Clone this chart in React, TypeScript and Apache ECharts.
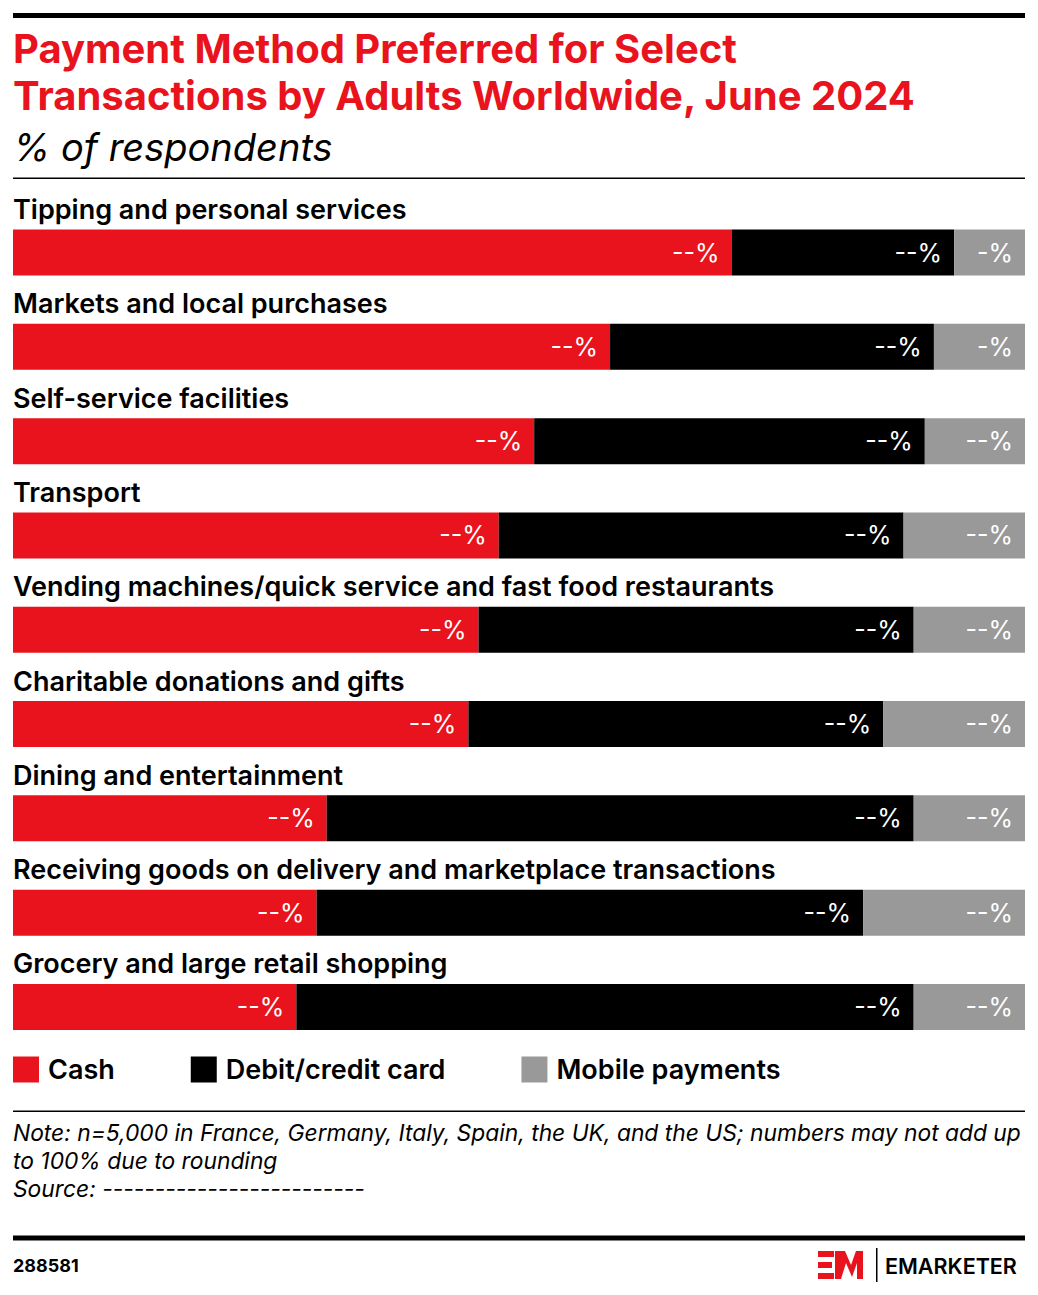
import React, { useEffect, useRef } from "react";
import * as echarts from "echarts";

const categories = [
  "Tipping and personal services",
  "Markets and local purchases",
  "Self-service facilities",
  "Transport",
  "Vending machines/quick service and fast food restaurants",
  "Charitable donations and gifts",
  "Dining and entertainment",
  "Receiving goods on delivery and marketplace transactions",
  "Grocery and large retail shopping",
];
const seriesNames = ["Cash", "Debit/credit card", "Mobile payments"];
const cash = [71, 59, 51.5, 48, 46, 45, 31, 30, 28];
const card = [22, 32, 38.6, 40, 43, 41, 58, 54, 61];
const mobile = [7, 9, 9.9, 12, 11, 14, 11, 16, 11];
const cashLabels = ["--%", "--%", "--%", "--%", "--%", "--%", "--%", "--%", "--%"];
const cardLabels = ["--%", "--%", "--%", "--%", "--%", "--%", "--%", "--%", "--%"];
const mobileLabels = ["-%", "-%", "--%", "--%", "--%", "--%", "--%", "--%", "--%"];

const RED = "#e8131c";
const BLACK = "#000000";
const GRAY = "#999999";
const FONT = "Inter, 'Noto Sans', sans-serif";

export default function App() {
  const ref = useRef<HTMLDivElement>(null);
  useEffect(() => {
    if (!ref.current) return;
    const chart = echarts.init(ref.current, null, { renderer: "svg" });
    const mk = (name: string, data: number[], labels: string[], color: string) => ({
      name,
      type: "bar",
      stack: "total",
      barWidth: 46,
      data,
      itemStyle: { color },
      label: {
        show: true,
        position: "insideRight",
        distance: 12,
        color: "#ffffff",
        fontFamily: FONT,
        fontSize: 25,
        fontWeight: 400,
        formatter: (p: any) => labels[p.dataIndex],
      },
    });
    chart.setOption({
      animation: false,
      textStyle: { fontFamily: FONT },
      grid: { left: 13, right: 13, top: 205.35, height: 848.8, containLabel: false },
      xAxis: { type: "value", min: 0, max: 100, show: false },
      yAxis: {
        type: "category",
        data: categories,
        inverse: true,
        axisLine: { show: false },
        axisTick: { show: false },
        splitLine: { show: false },
        axisLabel: {
          inside: true,
          margin: 0,
          align: "left",
          verticalAlign: "bottom",
          padding: [0, 0, 28, 0],
          color: "#000",
          fontFamily: FONT,
          fontSize: 27,
          fontWeight: 600,
          lineHeight: 30,
        },
        z: 10,
      },
      legend: {
        left: 13,
        top: 1056,
        padding: 0,
        itemWidth: 26,
        itemHeight: 26,
        itemGap: 76,
        icon: "rect",
        selectedMode: false,
        textStyle: { color: "#000", fontFamily: FONT, fontSize: 27, fontWeight: 600, padding: [0, 0, 0, 4] },
        data: seriesNames,
      },
      series: [
        mk(seriesNames[0], cash, cashLabels, RED),
        mk(seriesNames[1], card, cardLabels, BLACK),
        mk(seriesNames[2], mobile, mobileLabels, GRAY),
      ],
      graphic: [
        { type: "rect", shape: { x: 13, y: 13, width: 1012, height: 5 }, style: { fill: "#000" } },
        { type: "text", x: 13, y: 48, style: { text: "Payment Method Preferred for Select", fill: RED, font: `700 40px ${FONT}`, textVerticalAlign: "middle" } },
        { type: "text", x: 13, y: 95, style: { text: "Transactions by Adults Worldwide, June 2024", fill: RED, font: `700 40px ${FONT}`, textVerticalAlign: "middle" } },
        { type: "text", x: 13, y: 147, style: { text: "% of respondents", fill: "#000", font: `italic 400 38px ${FONT}`, textVerticalAlign: "middle" } },
        { type: "rect", shape: { x: 13, y: 177.5, width: 1012, height: 1.5 }, style: { fill: "#000" } },
        { type: "rect", shape: { x: 13, y: 1110.5, width: 1012, height: 1.5 }, style: { fill: "#000" } },
        { type: "text", x: 13, y: 1132, style: { text: "Note: n=5,000 in France, Germany, Italy, Spain, the UK, and the US; numbers may not add up", fill: "#000", font: `italic 400 22.8px ${FONT}`, textVerticalAlign: "middle" } },
        { type: "text", x: 13, y: 1160, style: { text: "to 100% due to rounding", fill: "#000", font: `italic 400 22.8px ${FONT}`, textVerticalAlign: "middle" } },
        { type: "text", x: 13, y: 1188, style: { text: "Source: -------------------------", fill: "#000", font: `italic 400 22.8px ${FONT}`, textVerticalAlign: "middle" } },
        { type: "rect", shape: { x: 13, y: 1235.5, width: 1012, height: 5 }, style: { fill: "#000" } },
        { type: "text", x: 13, y: 1265, style: { text: "288581", fill: "#000", font: `700 18px ${FONT}`, textVerticalAlign: "middle" } },
        // EM logo
        { type: "rect", shape: { x: 818, y: 1251, width: 16, height: 6 }, style: { fill: RED } },
        { type: "rect", shape: { x: 818, y: 1262, width: 14, height: 6 }, style: { fill: RED } },
        { type: "rect", shape: { x: 818, y: 1273, width: 16, height: 6 }, style: { fill: RED } },
        { type: "polygon", shape: { points: [[835, 1251], [845, 1251], [851, 1265], [856, 1251], [863, 1251], [863, 1279], [857, 1279], [857, 1263], [852, 1277], [846, 1263], [841, 1279], [835, 1279]] }, style: { fill: RED } },
        { type: "rect", shape: { x: 876, y: 1248, width: 1.5, height: 34 }, style: { fill: "#000" } },
        { type: "text", x: 885, y: 1266, style: { text: "EMARKETER", fill: "#000", font: `600 21.5px ${FONT}`, textVerticalAlign: "middle" } },
      ],
    });
    return () => chart.dispose();
  }, []);
  return <div ref={ref} style={{ position: "fixed", left: 0, top: 0, width: 1038, height: 1295, background: "#fff" }} />;
}
